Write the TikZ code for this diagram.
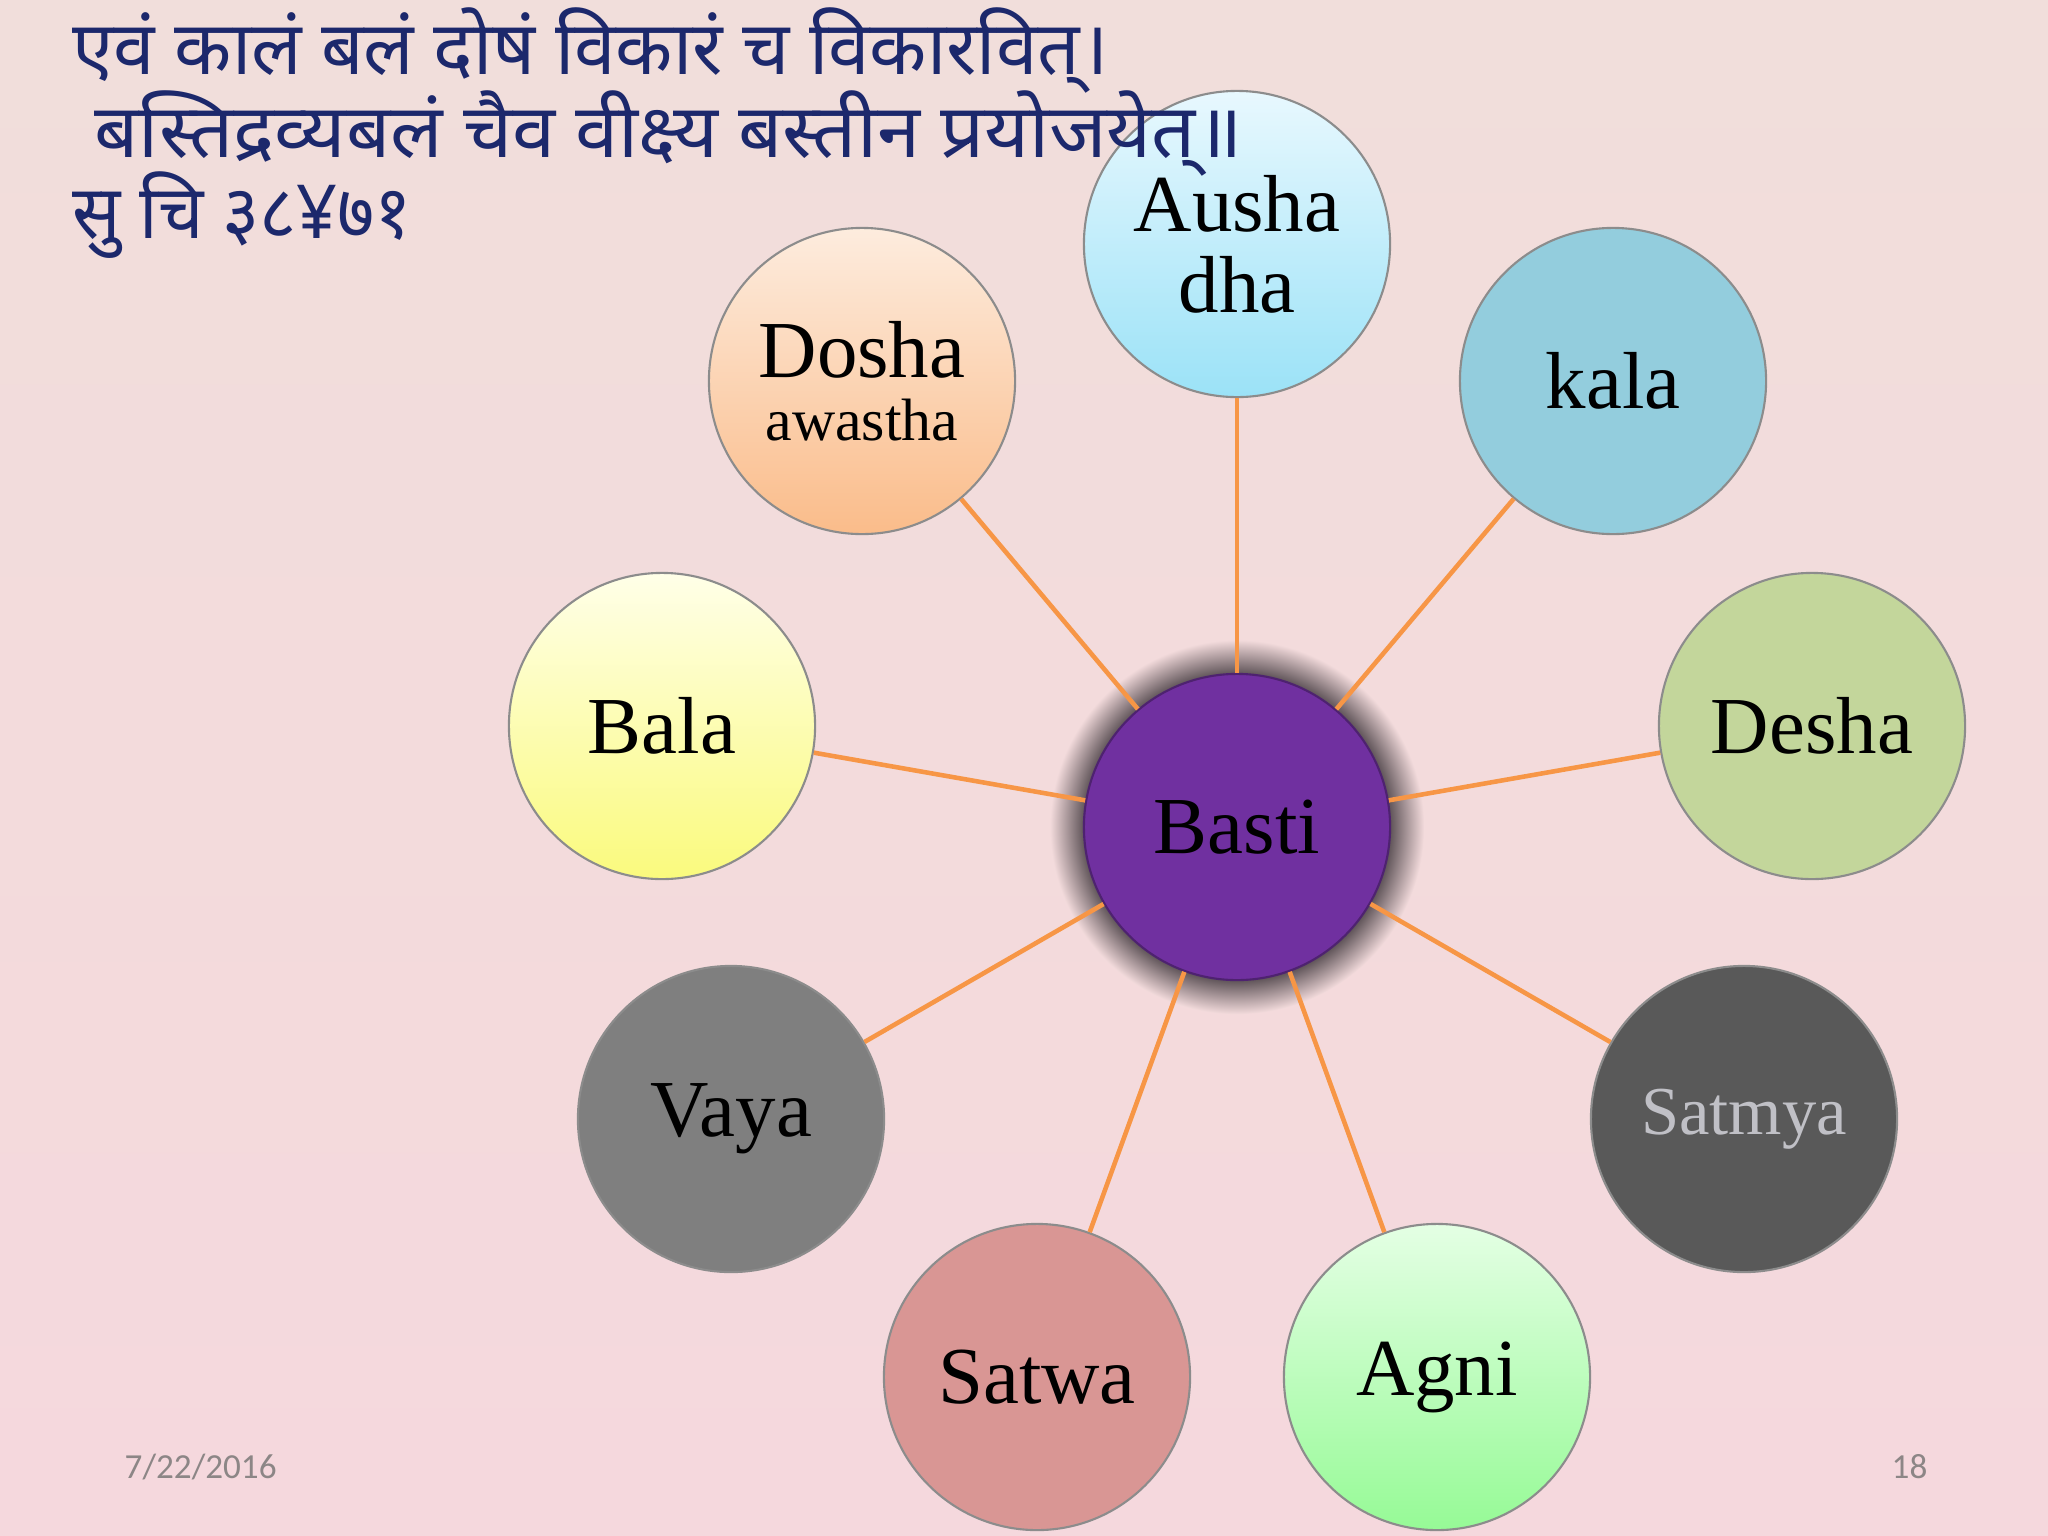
\documentclass[tikz,border=0pt]{standalone}
\usepackage{fontspec}
\usepackage{graphicx}
\setmainfont{Liberation Serif}
\newfontfamily\devafont[Script=Devanagari]{Noto Sans}
\newfontfamily\calfont{Carlito}
\definecolor{bgtop}{RGB}{241,222,219}
\definecolor{bgbot}{RGB}{245,216,221}
\definecolor{bgc}{RGB}{243,219,220}
\definecolor{glowc}{RGB}{80,70,75}
\definecolor{navy}{RGB}{28,40,108}
\definecolor{conncol}{RGB}{247,150,70}
\definecolor{rimcol}{RGB}{140,140,140}
\definecolor{bastifill}{RGB}{112,48,160}
\definecolor{kalafill}{RGB}{147,205,221}
\definecolor{deshafill}{RGB}{195,214,155}
\definecolor{vayafill}{RGB}{127,127,127}
\definecolor{satmyafill}{RGB}{89,89,89}
\definecolor{satmyatext}{RGB}{192,192,198}
\definecolor{satwafill}{RGB}{217,150,148}
\definecolor{footgray}{RGB}{140,134,134}
\pgfdeclareradialshading{bastiglow}{\pgfpoint{0bp}{0bp}}{color(0bp)=(glowc); color(20bp)=(glowc); color(25bp)=(bgc); color(50bp)=(bgc)}
\tikzset{
  bub/.style={circle, minimum size=3.06cm, inner sep=0pt, draw=rimcol, line width=0.6pt,
    align=center, font=\fontsize{23}{23}\selectfont},
  conn/.style={draw=conncol, line width=1.3pt},
  devatext/.style={anchor=base west, inner sep=0pt, text=navy, font=\devafont\fontsize{21.2}{24}\selectfont},
  foot/.style={anchor=base west, inner sep=0pt, text=footgray, font=\calfont\fontsize{10}{12}\selectfont}
}
\begin{document}
\begin{tikzpicture}[x=0.01cm, y=-0.01cm]
\shade[top color=bgtop, bottom color=bgbot] (0,0) rectangle (2048,1536);
\useasboundingbox (0,0) rectangle (2048,1536);
% glow behind Basti
\coordinate (bc) at (1237,827);
\shade[shading=bastiglow] (bc) circle (1.87cm);
% nodes
\node[bub, fill=bastifill, draw=bastifill!70!black] (basti) at (bc) {Basti};
\node[bub, top color={rgb,255:red,232;green,248;blue,254}, bottom color={rgb,255:red,155;green,226;blue,247}] (aush) at (1237,244) {Ausha\\dha};
\node[bub, top color={rgb,255:red,253;green,236;blue,222}, bottom color={rgb,255:red,250;green,188;blue,138}] (dosha) at (862,381) {Dosha\\[-5pt]{\fontsize{17}{17}\selectfont awastha}};
\node[bub, fill=kalafill] (kala) at (1613,381) {kala};
\node[bub, top color={rgb,255:red,255;green,255;blue,232}, bottom color={rgb,255:red,250;green,250;blue,125}] (bala) at (662,726) {Bala};
\node[bub, fill=deshafill] (desha) at (1812,726) {Desha};
\node[bub, fill=vayafill] (vaya) at (731,1119) {Vaya};
\node[bub, fill=satmyafill, text=satmyatext, font=\fontsize{19.5}{20}\selectfont] (satmya) at (1744,1119) {Satmya};
\node[bub, fill=satwafill] (satwa) at (1037,1377) {Satwa};
\node[bub, top color={rgb,255:red,228;green,255;blue,228}, bottom color={rgb,255:red,150;green,250;blue,150}] (agni) at (1437,1377) {Agni};
% connectors
\draw[conn] (basti) -- (aush);
\draw[conn] (basti) -- (dosha);
\draw[conn] (basti) -- (kala);
\draw[conn] (basti) -- (bala);
\draw[conn] (basti) -- (desha);
\draw[conn] (basti) -- (vaya);
\draw[conn] (basti) -- (satmya);
\draw[conn] (basti) -- (satwa);
\draw[conn] (basti) -- (agni);
% title text (on top of the circles)
\node[devatext] (l1) at (72,74) {एवं कालं बलं दोषं विकारं च विकारवित्।};
\node[devatext] (l2) at (94,157) {\scalebox{1.04}[1]{बस्तिद्रव्यबलं चैव वीक्ष्य बस्तीन प्रयोजयेत्॥}};
\node[devatext] (l3) at (72,238) {\scalebox{0.96}[1]{सु चि ३८¥७१}};
% footer
\node[foot] (date) at (124,1478) {7/22/2016};
\node[foot] (page) at (1891,1478) {18};
\end{tikzpicture}
\end{document}
